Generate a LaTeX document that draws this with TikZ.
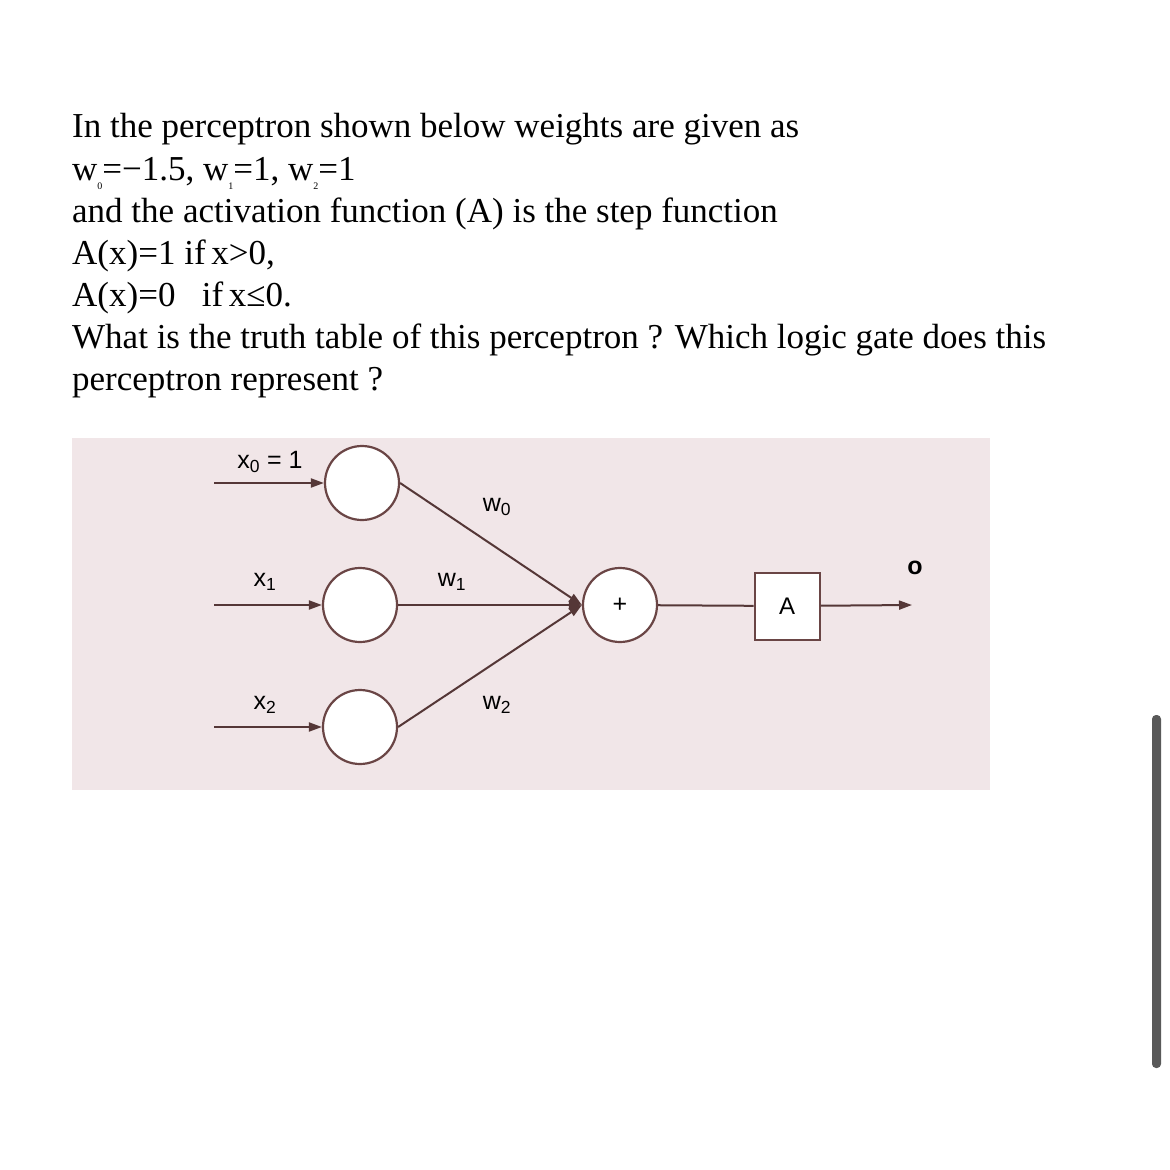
\documentclass[tikz,border=0pt]{standalone}
\usepackage{fontspec}
\setmainfont{Liberation Serif}
\newfontfamily\lsans{Liberation Sans}
\usetikzlibrary{arrows.meta}
\definecolor{bgpink}{HTML}{F1E6E8}
\definecolor{brn}{HTML}{6A4545}
\begin{document}
\begin{tikzpicture}[x=1pt,y=-1pt,
  txt/.style={anchor=base west,inner sep=0pt,font=\fontsize{35}{35}\selectfont},
  neuron/.style={circle,draw=brn,fill=white,line width=2.2pt,minimum size=74pt,inner sep=0pt},
  lbl/.style={font=\lsans\fontsize{25}{25}\selectfont,inner sep=0pt},
  conn/.style={draw=brn!80!black,line width=2pt},
  arr/.style={conn,-{Triangle[length=13pt,width=9pt]}}]
\useasboundingbox (0,0) rectangle (1170,1170);
\fill[white] (0,0) rectangle (1170,1170);
\newcommand{\wsub}[1]{\raisebox{-9pt}{\fontsize{10}{10}\selectfont #1}}
\node[txt] (l1) at (72,137) {In the perceptron shown below weights are given as};
\node[txt] (l2) at (72,180) {w\wsub{0}=−1.5, w\wsub{1}=1, w\wsub{2}=1};
\node[txt] (l3) at (72,222) {and the activation function (A) is the step function};
\node[txt] (l4) at (72,264) {A(x)=1 if\,x>0,};
\node[txt] (l5) at (72,306) {A(x)=0\ \ \ if\,x≤0.};
\node[txt] (l6) at (72,348) {What is the truth table of this perceptron ? Which logic gate does this};
\node[txt] (l7) at (72,390) {perceptron represent ?};
\fill[bgpink] (72,438) rectangle (990,790);
\node[neuron] (n0) at (362,483) {};
\node[neuron] (n1) at (360,605) {};
\node[neuron] (n2) at (360,727) {};
\node[neuron] (s) at (620,605) {\lsans\fontsize{25}{25}\selectfont +};
\node[draw=brn,line width=2pt,fill=white,minimum width=65pt,minimum height=67pt,inner sep=0pt,font=\lsans\fontsize{24}{24}\selectfont] (a) at (787,606) {A};
\coordinate (i0) at (214,483);
\coordinate (i1) at (214,605);
\coordinate (i2) at (214,727);
\coordinate (o) at (912,605);
\draw[arr] (i0) -- (n0);
\draw[arr] (i1) -- (n1);
\draw[arr] (i2) -- (n2);
\draw[arr] (n0.east) -- (s.west);
\draw[arr] (n1) -- (s.west);
\draw[arr] (n2.east) -- (s.west);
\draw[conn] (s) -- (a);
\draw[arr] (a) -- (o);
\node[lbl] (tx0) at (270,462) {x\textsubscript{0} = 1};
\node[lbl] (tx1) at (265,582) {x\textsubscript{1}};
\node[lbl] (tx2) at (265,705) {x\textsubscript{2}};
\node[lbl] (tw0) at (497,507) {w\textsubscript{0}};
\node[lbl] (tw1) at (452,582) {w\textsubscript{1}};
\node[lbl] (tw2) at (497,705) {w\textsubscript{2}};
\node[lbl,font=\lsans\bfseries\fontsize{25}{25}\selectfont] (to) at (915,568) {o};
\fill[black!65,rounded corners=4pt] (1152,715) rectangle (1161,1068);
\end{tikzpicture}
\end{document}
